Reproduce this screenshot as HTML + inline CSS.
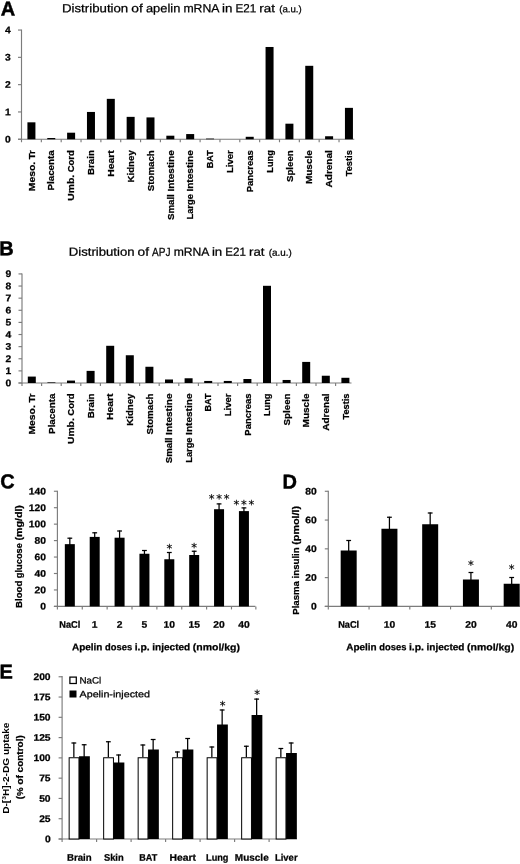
<!DOCTYPE html>
<html lang="en"><head><meta charset="utf-8"><title>Apelin figure</title>
<style>
html,body{margin:0;padding:0;background:#fff;}
body{width:520px;height:864px;overflow:hidden;}
svg{display:block;font-family:"Liberation Sans","Liberation Sans",sans-serif;fill:#000;}
svg line{shape-rendering:auto;}
</style></head><body>
<svg width="520" height="864" viewBox="0 0 520 864">
<rect x="0" y="0" width="520" height="864" fill="#fff"/>
<text transform="translate(0.80 15.50) rotate(0.03)" font-size="20.00" font-weight="bold" stroke="#000" stroke-width="0.45" x="0.00" y="0.00">A</text>
<text transform="translate(62.00 12.20) rotate(0.03)" font-size="11.77" stroke="#000" stroke-width="0.25"><tspan x="0.00" y="0.00" textLength="66.24" lengthAdjust="spacingAndGlyphs">Distribution</tspan> <tspan x="69.36" y="0.00" textLength="11.49" lengthAdjust="spacingAndGlyphs">of</tspan> <tspan x="83.97" y="0.00" textLength="34.32" lengthAdjust="spacingAndGlyphs">apelin</tspan> <tspan x="121.42" y="0.00" textLength="35.42" lengthAdjust="spacingAndGlyphs">mRNA</tspan> <tspan x="159.96" y="0.00" textLength="10.42" lengthAdjust="spacingAndGlyphs">in</tspan> <tspan x="173.50" y="0.00" textLength="20.73" lengthAdjust="spacingAndGlyphs">E21</tspan> <tspan x="197.36" y="0.00" textLength="15.64" lengthAdjust="spacingAndGlyphs">rat</tspan></text>
<text transform="translate(279.25 12.20) rotate(0.03)" font-size="9.47" stroke="#000" stroke-width="0.25"><tspan x="0.00" y="0.00" textLength="22.50" lengthAdjust="spacingAndGlyphs">(a.u.)</tspan></text>
<line x1="21.50" y1="29.55" x2="21.50" y2="139.75" stroke="#7c7c7c" stroke-width="1.15"/>
<line x1="18.00" y1="139.25" x2="354.30" y2="139.25" stroke="#7c7c7c" stroke-width="1.15"/>
<line x1="18.00" y1="139.25" x2="21.50" y2="139.25" stroke="#7c7c7c" stroke-width="1.15"/>
<text transform="translate(10.70 142.45) rotate(0.03)" font-size="9.56" font-weight="bold" stroke="#000" stroke-width="0.25"><tspan x="-5.73" y="0.00" textLength="5.73" lengthAdjust="spacingAndGlyphs">0</tspan></text>
<line x1="18.00" y1="111.95" x2="21.50" y2="111.95" stroke="#7c7c7c" stroke-width="1.15"/>
<text transform="translate(10.70 115.15) rotate(0.03)" font-size="9.56" font-weight="bold" stroke="#000" stroke-width="0.25"><tspan x="-5.73" y="0.00" textLength="5.73" lengthAdjust="spacingAndGlyphs">1</tspan></text>
<line x1="18.00" y1="84.65" x2="21.50" y2="84.65" stroke="#7c7c7c" stroke-width="1.15"/>
<text transform="translate(10.70 87.85) rotate(0.03)" font-size="9.56" font-weight="bold" stroke="#000" stroke-width="0.25"><tspan x="-5.73" y="0.00" textLength="5.73" lengthAdjust="spacingAndGlyphs">2</tspan></text>
<line x1="18.00" y1="57.35" x2="21.50" y2="57.35" stroke="#7c7c7c" stroke-width="1.15"/>
<text transform="translate(10.70 60.55) rotate(0.03)" font-size="9.56" font-weight="bold" stroke="#000" stroke-width="0.25"><tspan x="-5.73" y="0.00" textLength="5.73" lengthAdjust="spacingAndGlyphs">3</tspan></text>
<line x1="18.00" y1="30.05" x2="21.50" y2="30.05" stroke="#7c7c7c" stroke-width="1.15"/>
<text transform="translate(10.70 33.25) rotate(0.03)" font-size="9.56" font-weight="bold" stroke="#000" stroke-width="0.25"><tspan x="-5.73" y="0.00" textLength="5.73" lengthAdjust="spacingAndGlyphs">4</tspan></text>
<line x1="21.50" y1="139.25" x2="21.50" y2="142.25" stroke="#7c7c7c" stroke-width="1.15"/>
<rect x="27.42" y="122.32" width="8.00" height="16.93" fill="#000"/>
<text transform="translate(34.62 150.20) rotate(-90)" font-size="9.73" font-weight="bold" stroke="#000" stroke-width="0.25"><tspan x="-41.06" y="0.00" textLength="29.39" lengthAdjust="spacingAndGlyphs">Meso.</tspan> <tspan x="-9.10" y="0.00" textLength="9.10" lengthAdjust="spacingAndGlyphs">Tr</tspan></text>
<line x1="41.34" y1="139.25" x2="41.34" y2="142.25" stroke="#7c7c7c" stroke-width="1.15"/>
<rect x="47.27" y="138.02" width="8.00" height="1.23" fill="#000"/>
<text transform="translate(54.47 150.20) rotate(-90)" font-size="9.73" font-weight="bold" stroke="#000" stroke-width="0.25"><tspan x="-40.43" y="0.00" textLength="40.43" lengthAdjust="spacingAndGlyphs">Placenta</tspan></text>
<line x1="61.19" y1="139.25" x2="61.19" y2="142.25" stroke="#7c7c7c" stroke-width="1.15"/>
<rect x="67.11" y="132.70" width="8.00" height="6.55" fill="#000"/>
<text transform="translate(74.31 150.20) rotate(-90)" font-size="9.73" font-weight="bold" stroke="#000" stroke-width="0.25"><tspan x="-50.54" y="0.00" textLength="25.82" lengthAdjust="spacingAndGlyphs">Umb.</tspan> <tspan x="-22.14" y="0.00" textLength="22.14" lengthAdjust="spacingAndGlyphs">Cord</tspan></text>
<line x1="81.03" y1="139.25" x2="81.03" y2="142.25" stroke="#7c7c7c" stroke-width="1.15"/>
<rect x="86.96" y="111.95" width="8.00" height="27.30" fill="#000"/>
<text transform="translate(94.16 150.20) rotate(-90)" font-size="9.73" font-weight="bold" stroke="#000" stroke-width="0.25"><tspan x="-24.79" y="0.00" textLength="24.79" lengthAdjust="spacingAndGlyphs">Brain</tspan></text>
<line x1="100.88" y1="139.25" x2="100.88" y2="142.25" stroke="#7c7c7c" stroke-width="1.15"/>
<rect x="106.80" y="98.85" width="8.00" height="40.40" fill="#000"/>
<text transform="translate(114.00 150.20) rotate(-90)" font-size="9.73" font-weight="bold" stroke="#000" stroke-width="0.25"><tspan x="-26.60" y="0.00" textLength="26.60" lengthAdjust="spacingAndGlyphs">Heart</tspan></text>
<line x1="120.72" y1="139.25" x2="120.72" y2="142.25" stroke="#7c7c7c" stroke-width="1.15"/>
<rect x="126.65" y="116.86" width="8.00" height="22.39" fill="#000"/>
<text transform="translate(133.85 150.20) rotate(-90)" font-size="9.73" font-weight="bold" stroke="#000" stroke-width="0.25"><tspan x="-32.31" y="0.00" textLength="32.31" lengthAdjust="spacingAndGlyphs">Kidney</tspan></text>
<line x1="140.57" y1="139.25" x2="140.57" y2="142.25" stroke="#7c7c7c" stroke-width="1.15"/>
<rect x="146.49" y="117.41" width="8.00" height="21.84" fill="#000"/>
<text transform="translate(153.69 150.20) rotate(-90)" font-size="9.73" font-weight="bold" stroke="#000" stroke-width="0.25"><tspan x="-41.09" y="0.00" textLength="41.09" lengthAdjust="spacingAndGlyphs">Stomach</tspan></text>
<line x1="160.41" y1="139.25" x2="160.41" y2="142.25" stroke="#7c7c7c" stroke-width="1.15"/>
<rect x="166.34" y="135.70" width="8.00" height="3.55" fill="#000"/>
<text transform="translate(173.54 150.20) rotate(-90)" font-size="9.73" font-weight="bold" stroke="#000" stroke-width="0.25"><tspan x="-69.80" y="0.00" textLength="25.81" lengthAdjust="spacingAndGlyphs">Small</tspan> <tspan x="-41.42" y="0.00" textLength="41.42" lengthAdjust="spacingAndGlyphs">Intestine</tspan></text>
<line x1="180.26" y1="139.25" x2="180.26" y2="142.25" stroke="#7c7c7c" stroke-width="1.15"/>
<rect x="186.18" y="134.06" width="8.00" height="5.19" fill="#000"/>
<text transform="translate(193.38 150.20) rotate(-90)" font-size="9.73" font-weight="bold" stroke="#000" stroke-width="0.25"><tspan x="-69.29" y="0.00" textLength="25.31" lengthAdjust="spacingAndGlyphs">Large</tspan> <tspan x="-41.42" y="0.00" textLength="41.42" lengthAdjust="spacingAndGlyphs">Intestine</tspan></text>
<line x1="200.10" y1="139.25" x2="200.10" y2="142.25" stroke="#7c7c7c" stroke-width="1.15"/>
<rect x="206.03" y="138.57" width="8.00" height="0.68" fill="#000"/>
<text transform="translate(213.23 150.20) rotate(-90)" font-size="9.73" font-weight="bold" stroke="#000" stroke-width="0.25"><tspan x="-18.03" y="0.00" textLength="18.03" lengthAdjust="spacingAndGlyphs">BAT</tspan></text>
<line x1="219.95" y1="139.25" x2="219.95" y2="142.25" stroke="#7c7c7c" stroke-width="1.15"/>
<text transform="translate(233.07 150.20) rotate(-90)" font-size="9.73" font-weight="bold" stroke="#000" stroke-width="0.25"><tspan x="-22.76" y="0.00" textLength="22.76" lengthAdjust="spacingAndGlyphs">Liver</tspan></text>
<line x1="239.79" y1="139.25" x2="239.79" y2="142.25" stroke="#7c7c7c" stroke-width="1.15"/>
<rect x="245.72" y="136.79" width="8.00" height="2.46" fill="#000"/>
<text transform="translate(252.92 150.20) rotate(-90)" font-size="9.73" font-weight="bold" stroke="#000" stroke-width="0.25"><tspan x="-42.14" y="0.00" textLength="42.14" lengthAdjust="spacingAndGlyphs">Pancreas</tspan></text>
<line x1="259.64" y1="139.25" x2="259.64" y2="142.25" stroke="#7c7c7c" stroke-width="1.15"/>
<rect x="265.56" y="46.98" width="8.00" height="92.27" fill="#000"/>
<text transform="translate(272.76 150.20) rotate(-90)" font-size="9.73" font-weight="bold" stroke="#000" stroke-width="0.25"><tspan x="-22.52" y="0.00" textLength="22.52" lengthAdjust="spacingAndGlyphs">Lung</tspan></text>
<line x1="279.49" y1="139.25" x2="279.49" y2="142.25" stroke="#7c7c7c" stroke-width="1.15"/>
<rect x="285.41" y="123.69" width="8.00" height="15.56" fill="#000"/>
<text transform="translate(292.61 150.20) rotate(-90)" font-size="9.73" font-weight="bold" stroke="#000" stroke-width="0.25"><tspan x="-31.90" y="0.00" textLength="31.90" lengthAdjust="spacingAndGlyphs">Spleen</tspan></text>
<line x1="299.33" y1="139.25" x2="299.33" y2="142.25" stroke="#7c7c7c" stroke-width="1.15"/>
<rect x="305.25" y="65.81" width="8.00" height="73.44" fill="#000"/>
<text transform="translate(312.45 150.20) rotate(-90)" font-size="9.73" font-weight="bold" stroke="#000" stroke-width="0.25"><tspan x="-33.93" y="0.00" textLength="33.93" lengthAdjust="spacingAndGlyphs">Muscle</tspan></text>
<line x1="319.17" y1="139.25" x2="319.17" y2="142.25" stroke="#7c7c7c" stroke-width="1.15"/>
<rect x="325.10" y="136.25" width="8.00" height="3.00" fill="#000"/>
<text transform="translate(332.30 150.20) rotate(-90)" font-size="9.73" font-weight="bold" stroke="#000" stroke-width="0.25"><tspan x="-37.21" y="0.00" textLength="37.21" lengthAdjust="spacingAndGlyphs">Adrenal</tspan></text>
<line x1="339.02" y1="139.25" x2="339.02" y2="142.25" stroke="#7c7c7c" stroke-width="1.15"/>
<rect x="344.94" y="107.86" width="8.00" height="31.39" fill="#000"/>
<text transform="translate(352.14 150.20) rotate(-90)" font-size="9.73" font-weight="bold" stroke="#000" stroke-width="0.25"><tspan x="-26.08" y="0.00" textLength="26.08" lengthAdjust="spacingAndGlyphs">Testis</tspan></text>
<text transform="translate(-0.80 255.30) rotate(0.03)" font-size="20.00" font-weight="bold" stroke="#000" stroke-width="0.45" x="0.00" y="0.00">B</text>
<text transform="translate(68.80 255.70) rotate(0.03)" font-size="11.77" stroke="#000" stroke-width="0.25"><tspan x="0.00" y="0.00" textLength="65.72" lengthAdjust="spacingAndGlyphs">Distribution</tspan> <tspan x="68.82" y="0.00" textLength="11.40" lengthAdjust="spacingAndGlyphs">of</tspan> <tspan x="83.31" y="0.00" textLength="18.43" lengthAdjust="spacingAndGlyphs">APJ</tspan> <tspan x="104.84" y="0.00" textLength="35.14" lengthAdjust="spacingAndGlyphs">mRNA</tspan> <tspan x="143.08" y="0.00" textLength="10.34" lengthAdjust="spacingAndGlyphs">in</tspan> <tspan x="156.52" y="0.00" textLength="20.57" lengthAdjust="spacingAndGlyphs">E21</tspan> <tspan x="180.18" y="0.00" textLength="15.52" lengthAdjust="spacingAndGlyphs">rat</tspan></text>
<text transform="translate(268.75 255.70) rotate(0.03)" font-size="9.47" stroke="#000" stroke-width="0.25"><tspan x="0.00" y="0.00" textLength="23.00" lengthAdjust="spacingAndGlyphs">(a.u.)</tspan></text>
<line x1="22.00" y1="273.42" x2="22.00" y2="383.50" stroke="#7c7c7c" stroke-width="1.15"/>
<line x1="18.50" y1="383.00" x2="351.50" y2="383.00" stroke="#7c7c7c" stroke-width="1.15"/>
<line x1="18.50" y1="383.00" x2="22.00" y2="383.00" stroke="#7c7c7c" stroke-width="1.15"/>
<text transform="translate(11.20 386.20) rotate(0.03)" font-size="9.56" font-weight="bold" stroke="#000" stroke-width="0.25"><tspan x="-5.73" y="0.00" textLength="5.73" lengthAdjust="spacingAndGlyphs">0</tspan></text>
<line x1="18.50" y1="370.88" x2="22.00" y2="370.88" stroke="#7c7c7c" stroke-width="1.15"/>
<text transform="translate(11.20 374.08) rotate(0.03)" font-size="9.56" font-weight="bold" stroke="#000" stroke-width="0.25"><tspan x="-5.73" y="0.00" textLength="5.73" lengthAdjust="spacingAndGlyphs">1</tspan></text>
<line x1="18.50" y1="358.76" x2="22.00" y2="358.76" stroke="#7c7c7c" stroke-width="1.15"/>
<text transform="translate(11.20 361.96) rotate(0.03)" font-size="9.56" font-weight="bold" stroke="#000" stroke-width="0.25"><tspan x="-5.73" y="0.00" textLength="5.73" lengthAdjust="spacingAndGlyphs">2</tspan></text>
<line x1="18.50" y1="346.64" x2="22.00" y2="346.64" stroke="#7c7c7c" stroke-width="1.15"/>
<text transform="translate(11.20 349.84) rotate(0.03)" font-size="9.56" font-weight="bold" stroke="#000" stroke-width="0.25"><tspan x="-5.73" y="0.00" textLength="5.73" lengthAdjust="spacingAndGlyphs">3</tspan></text>
<line x1="18.50" y1="334.52" x2="22.00" y2="334.52" stroke="#7c7c7c" stroke-width="1.15"/>
<text transform="translate(11.20 337.72) rotate(0.03)" font-size="9.56" font-weight="bold" stroke="#000" stroke-width="0.25"><tspan x="-5.73" y="0.00" textLength="5.73" lengthAdjust="spacingAndGlyphs">4</tspan></text>
<line x1="18.50" y1="322.40" x2="22.00" y2="322.40" stroke="#7c7c7c" stroke-width="1.15"/>
<text transform="translate(11.20 325.60) rotate(0.03)" font-size="9.56" font-weight="bold" stroke="#000" stroke-width="0.25"><tspan x="-5.73" y="0.00" textLength="5.73" lengthAdjust="spacingAndGlyphs">5</tspan></text>
<line x1="18.50" y1="310.28" x2="22.00" y2="310.28" stroke="#7c7c7c" stroke-width="1.15"/>
<text transform="translate(11.20 313.48) rotate(0.03)" font-size="9.56" font-weight="bold" stroke="#000" stroke-width="0.25"><tspan x="-5.73" y="0.00" textLength="5.73" lengthAdjust="spacingAndGlyphs">6</tspan></text>
<line x1="18.50" y1="298.16" x2="22.00" y2="298.16" stroke="#7c7c7c" stroke-width="1.15"/>
<text transform="translate(11.20 301.36) rotate(0.03)" font-size="9.56" font-weight="bold" stroke="#000" stroke-width="0.25"><tspan x="-5.73" y="0.00" textLength="5.73" lengthAdjust="spacingAndGlyphs">7</tspan></text>
<line x1="18.50" y1="286.04" x2="22.00" y2="286.04" stroke="#7c7c7c" stroke-width="1.15"/>
<text transform="translate(11.20 289.24) rotate(0.03)" font-size="9.56" font-weight="bold" stroke="#000" stroke-width="0.25"><tspan x="-5.73" y="0.00" textLength="5.73" lengthAdjust="spacingAndGlyphs">8</tspan></text>
<line x1="18.50" y1="273.92" x2="22.00" y2="273.92" stroke="#7c7c7c" stroke-width="1.15"/>
<text transform="translate(11.20 277.12) rotate(0.03)" font-size="9.56" font-weight="bold" stroke="#000" stroke-width="0.25"><tspan x="-5.73" y="0.00" textLength="5.73" lengthAdjust="spacingAndGlyphs">9</tspan></text>
<line x1="22.00" y1="383.00" x2="22.00" y2="386.00" stroke="#7c7c7c" stroke-width="1.15"/>
<rect x="27.80" y="376.58" width="8.00" height="6.42" fill="#000"/>
<text transform="translate(35.00 393.50) rotate(-90)" font-size="9.73" font-weight="bold" stroke="#000" stroke-width="0.25"><tspan x="-41.06" y="0.00" textLength="29.39" lengthAdjust="spacingAndGlyphs">Meso.</tspan> <tspan x="-9.10" y="0.00" textLength="9.10" lengthAdjust="spacingAndGlyphs">Tr</tspan></text>
<line x1="41.60" y1="383.00" x2="41.60" y2="386.00" stroke="#7c7c7c" stroke-width="1.15"/>
<rect x="47.40" y="382.39" width="8.00" height="0.61" fill="#000"/>
<text transform="translate(54.60 393.50) rotate(-90)" font-size="9.73" font-weight="bold" stroke="#000" stroke-width="0.25"><tspan x="-40.43" y="0.00" textLength="40.43" lengthAdjust="spacingAndGlyphs">Placenta</tspan></text>
<line x1="61.20" y1="383.00" x2="61.20" y2="386.00" stroke="#7c7c7c" stroke-width="1.15"/>
<rect x="67.00" y="380.58" width="8.00" height="2.42" fill="#000"/>
<text transform="translate(74.20 393.50) rotate(-90)" font-size="9.73" font-weight="bold" stroke="#000" stroke-width="0.25"><tspan x="-50.54" y="0.00" textLength="25.82" lengthAdjust="spacingAndGlyphs">Umb.</tspan> <tspan x="-22.14" y="0.00" textLength="22.14" lengthAdjust="spacingAndGlyphs">Cord</tspan></text>
<line x1="80.80" y1="383.00" x2="80.80" y2="386.00" stroke="#7c7c7c" stroke-width="1.15"/>
<rect x="86.60" y="370.88" width="8.00" height="12.12" fill="#000"/>
<text transform="translate(93.80 393.50) rotate(-90)" font-size="9.73" font-weight="bold" stroke="#000" stroke-width="0.25"><tspan x="-24.79" y="0.00" textLength="24.79" lengthAdjust="spacingAndGlyphs">Brain</tspan></text>
<line x1="100.40" y1="383.00" x2="100.40" y2="386.00" stroke="#7c7c7c" stroke-width="1.15"/>
<rect x="106.20" y="345.79" width="8.00" height="37.21" fill="#000"/>
<text transform="translate(113.40 393.50) rotate(-90)" font-size="9.73" font-weight="bold" stroke="#000" stroke-width="0.25"><tspan x="-26.60" y="0.00" textLength="26.60" lengthAdjust="spacingAndGlyphs">Heart</tspan></text>
<line x1="120.00" y1="383.00" x2="120.00" y2="386.00" stroke="#7c7c7c" stroke-width="1.15"/>
<rect x="125.80" y="355.25" width="8.00" height="27.75" fill="#000"/>
<text transform="translate(133.00 393.50) rotate(-90)" font-size="9.73" font-weight="bold" stroke="#000" stroke-width="0.25"><tspan x="-32.31" y="0.00" textLength="32.31" lengthAdjust="spacingAndGlyphs">Kidney</tspan></text>
<line x1="139.60" y1="383.00" x2="139.60" y2="386.00" stroke="#7c7c7c" stroke-width="1.15"/>
<rect x="145.40" y="366.76" width="8.00" height="16.24" fill="#000"/>
<text transform="translate(152.60 393.50) rotate(-90)" font-size="9.73" font-weight="bold" stroke="#000" stroke-width="0.25"><tspan x="-41.09" y="0.00" textLength="41.09" lengthAdjust="spacingAndGlyphs">Stomach</tspan></text>
<line x1="159.20" y1="383.00" x2="159.20" y2="386.00" stroke="#7c7c7c" stroke-width="1.15"/>
<rect x="165.00" y="379.49" width="8.00" height="3.51" fill="#000"/>
<text transform="translate(172.20 393.50) rotate(-90)" font-size="9.73" font-weight="bold" stroke="#000" stroke-width="0.25"><tspan x="-69.80" y="0.00" textLength="25.81" lengthAdjust="spacingAndGlyphs">Small</tspan> <tspan x="-41.42" y="0.00" textLength="41.42" lengthAdjust="spacingAndGlyphs">Intestine</tspan></text>
<line x1="178.80" y1="383.00" x2="178.80" y2="386.00" stroke="#7c7c7c" stroke-width="1.15"/>
<rect x="184.60" y="378.27" width="8.00" height="4.73" fill="#000"/>
<text transform="translate(191.80 393.50) rotate(-90)" font-size="9.73" font-weight="bold" stroke="#000" stroke-width="0.25"><tspan x="-69.29" y="0.00" textLength="25.31" lengthAdjust="spacingAndGlyphs">Large</tspan> <tspan x="-41.42" y="0.00" textLength="41.42" lengthAdjust="spacingAndGlyphs">Intestine</tspan></text>
<line x1="198.40" y1="383.00" x2="198.40" y2="386.00" stroke="#7c7c7c" stroke-width="1.15"/>
<rect x="204.20" y="380.94" width="8.00" height="2.06" fill="#000"/>
<text transform="translate(211.40 393.50) rotate(-90)" font-size="9.73" font-weight="bold" stroke="#000" stroke-width="0.25"><tspan x="-18.03" y="0.00" textLength="18.03" lengthAdjust="spacingAndGlyphs">BAT</tspan></text>
<line x1="218.00" y1="383.00" x2="218.00" y2="386.00" stroke="#7c7c7c" stroke-width="1.15"/>
<rect x="223.80" y="380.94" width="8.00" height="2.06" fill="#000"/>
<text transform="translate(231.00 393.50) rotate(-90)" font-size="9.73" font-weight="bold" stroke="#000" stroke-width="0.25"><tspan x="-22.76" y="0.00" textLength="22.76" lengthAdjust="spacingAndGlyphs">Liver</tspan></text>
<line x1="237.60" y1="383.00" x2="237.60" y2="386.00" stroke="#7c7c7c" stroke-width="1.15"/>
<rect x="243.40" y="379.00" width="8.00" height="4.00" fill="#000"/>
<text transform="translate(250.60 393.50) rotate(-90)" font-size="9.73" font-weight="bold" stroke="#000" stroke-width="0.25"><tspan x="-42.14" y="0.00" textLength="42.14" lengthAdjust="spacingAndGlyphs">Pancreas</tspan></text>
<line x1="257.20" y1="383.00" x2="257.20" y2="386.00" stroke="#7c7c7c" stroke-width="1.15"/>
<rect x="263.00" y="285.80" width="8.00" height="97.20" fill="#000"/>
<text transform="translate(270.20 393.50) rotate(-90)" font-size="9.73" font-weight="bold" stroke="#000" stroke-width="0.25"><tspan x="-22.52" y="0.00" textLength="22.52" lengthAdjust="spacingAndGlyphs">Lung</tspan></text>
<line x1="276.80" y1="383.00" x2="276.80" y2="386.00" stroke="#7c7c7c" stroke-width="1.15"/>
<rect x="282.60" y="379.97" width="8.00" height="3.03" fill="#000"/>
<text transform="translate(289.80 393.50) rotate(-90)" font-size="9.73" font-weight="bold" stroke="#000" stroke-width="0.25"><tspan x="-31.90" y="0.00" textLength="31.90" lengthAdjust="spacingAndGlyphs">Spleen</tspan></text>
<line x1="296.40" y1="383.00" x2="296.40" y2="386.00" stroke="#7c7c7c" stroke-width="1.15"/>
<rect x="302.20" y="361.91" width="8.00" height="21.09" fill="#000"/>
<text transform="translate(309.40 393.50) rotate(-90)" font-size="9.73" font-weight="bold" stroke="#000" stroke-width="0.25"><tspan x="-33.93" y="0.00" textLength="33.93" lengthAdjust="spacingAndGlyphs">Muscle</tspan></text>
<line x1="316.00" y1="383.00" x2="316.00" y2="386.00" stroke="#7c7c7c" stroke-width="1.15"/>
<rect x="321.80" y="375.73" width="8.00" height="7.27" fill="#000"/>
<text transform="translate(329.00 393.50) rotate(-90)" font-size="9.73" font-weight="bold" stroke="#000" stroke-width="0.25"><tspan x="-37.21" y="0.00" textLength="37.21" lengthAdjust="spacingAndGlyphs">Adrenal</tspan></text>
<line x1="335.60" y1="383.00" x2="335.60" y2="386.00" stroke="#7c7c7c" stroke-width="1.15"/>
<rect x="341.40" y="377.79" width="8.00" height="5.21" fill="#000"/>
<text transform="translate(348.60 393.50) rotate(-90)" font-size="9.73" font-weight="bold" stroke="#000" stroke-width="0.25"><tspan x="-26.08" y="0.00" textLength="26.08" lengthAdjust="spacingAndGlyphs">Testis</tspan></text>
<text transform="translate(0.20 488.30) rotate(0.03)" font-size="20.00" font-weight="bold" stroke="#000" stroke-width="0.45" x="0.00" y="0.00">C</text>
<line x1="57.40" y1="490.75" x2="57.40" y2="606.90" stroke="#7c7c7c" stroke-width="1.15"/>
<line x1="53.90" y1="606.40" x2="255.40" y2="606.40" stroke="#7c7c7c" stroke-width="1.15"/>
<line x1="53.90" y1="606.40" x2="57.40" y2="606.40" stroke="#7c7c7c" stroke-width="1.15"/>
<text transform="translate(45.90 609.60) rotate(0.03)" font-size="9.56" font-weight="bold" stroke="#000" stroke-width="0.25"><tspan x="-5.73" y="0.00" textLength="5.73" lengthAdjust="spacingAndGlyphs">0</tspan></text>
<line x1="53.90" y1="589.95" x2="57.40" y2="589.95" stroke="#7c7c7c" stroke-width="1.15"/>
<text transform="translate(45.90 593.15) rotate(0.03)" font-size="9.56" font-weight="bold" stroke="#000" stroke-width="0.25"><tspan x="-11.46" y="0.00" textLength="11.46" lengthAdjust="spacingAndGlyphs">20</tspan></text>
<line x1="53.90" y1="573.50" x2="57.40" y2="573.50" stroke="#7c7c7c" stroke-width="1.15"/>
<text transform="translate(45.90 576.70) rotate(0.03)" font-size="9.56" font-weight="bold" stroke="#000" stroke-width="0.25"><tspan x="-11.46" y="0.00" textLength="11.46" lengthAdjust="spacingAndGlyphs">40</tspan></text>
<line x1="53.90" y1="557.05" x2="57.40" y2="557.05" stroke="#7c7c7c" stroke-width="1.15"/>
<text transform="translate(45.90 560.25) rotate(0.03)" font-size="9.56" font-weight="bold" stroke="#000" stroke-width="0.25"><tspan x="-11.46" y="0.00" textLength="11.46" lengthAdjust="spacingAndGlyphs">60</tspan></text>
<line x1="53.90" y1="540.60" x2="57.40" y2="540.60" stroke="#7c7c7c" stroke-width="1.15"/>
<text transform="translate(45.90 543.80) rotate(0.03)" font-size="9.56" font-weight="bold" stroke="#000" stroke-width="0.25"><tspan x="-11.46" y="0.00" textLength="11.46" lengthAdjust="spacingAndGlyphs">80</tspan></text>
<line x1="53.90" y1="524.15" x2="57.40" y2="524.15" stroke="#7c7c7c" stroke-width="1.15"/>
<text transform="translate(45.90 527.35) rotate(0.03)" font-size="9.56" font-weight="bold" stroke="#000" stroke-width="0.25"><tspan x="-17.19" y="0.00" textLength="17.19" lengthAdjust="spacingAndGlyphs">100</tspan></text>
<line x1="53.90" y1="507.70" x2="57.40" y2="507.70" stroke="#7c7c7c" stroke-width="1.15"/>
<text transform="translate(45.90 510.90) rotate(0.03)" font-size="9.56" font-weight="bold" stroke="#000" stroke-width="0.25"><tspan x="-17.19" y="0.00" textLength="17.19" lengthAdjust="spacingAndGlyphs">120</tspan></text>
<line x1="53.90" y1="491.25" x2="57.40" y2="491.25" stroke="#7c7c7c" stroke-width="1.15"/>
<text transform="translate(45.90 494.45) rotate(0.03)" font-size="9.56" font-weight="bold" stroke="#000" stroke-width="0.25"><tspan x="-17.19" y="0.00" textLength="17.19" lengthAdjust="spacingAndGlyphs">140</tspan></text>
<line x1="57.40" y1="606.40" x2="57.40" y2="609.40" stroke="#7c7c7c" stroke-width="1.15"/>
<line x1="69.83" y1="537.70" x2="69.83" y2="545.15" stroke="#000" stroke-width="1.25"/>
<line x1="67.43" y1="538.20" x2="72.23" y2="538.20" stroke="#000" stroke-width="1.25"/>
<rect x="64.83" y="544.15" width="10.00" height="62.25" fill="#000"/>
<text transform="translate(69.83 627.80) rotate(0.03)" font-size="9.65" font-weight="bold" stroke="#000" stroke-width="0.25"><tspan x="-10.49" y="0.00" textLength="20.99" lengthAdjust="spacingAndGlyphs">NaCl</tspan></text>
<line x1="82.27" y1="606.40" x2="82.27" y2="609.40" stroke="#7c7c7c" stroke-width="1.15"/>
<line x1="94.70" y1="532.30" x2="94.70" y2="537.90" stroke="#000" stroke-width="1.25"/>
<line x1="92.30" y1="532.80" x2="97.11" y2="532.80" stroke="#000" stroke-width="1.25"/>
<rect x="89.70" y="536.90" width="10.00" height="69.50" fill="#000"/>
<text transform="translate(94.70 627.80) rotate(0.03)" font-size="9.65" font-weight="bold" stroke="#000" stroke-width="0.25"><tspan x="-2.86" y="0.00" textLength="5.73" lengthAdjust="spacingAndGlyphs">1</tspan></text>
<line x1="107.14" y1="606.40" x2="107.14" y2="609.40" stroke="#7c7c7c" stroke-width="1.15"/>
<line x1="119.58" y1="530.50" x2="119.58" y2="538.70" stroke="#000" stroke-width="1.25"/>
<line x1="117.17" y1="531.00" x2="121.98" y2="531.00" stroke="#000" stroke-width="1.25"/>
<rect x="114.58" y="537.70" width="10.00" height="68.70" fill="#000"/>
<text transform="translate(119.58 627.80) rotate(0.03)" font-size="9.65" font-weight="bold" stroke="#000" stroke-width="0.25"><tspan x="-2.86" y="0.00" textLength="5.73" lengthAdjust="spacingAndGlyphs">2</tspan></text>
<line x1="132.01" y1="606.40" x2="132.01" y2="609.40" stroke="#7c7c7c" stroke-width="1.15"/>
<line x1="144.44" y1="550.00" x2="144.44" y2="554.75" stroke="#000" stroke-width="1.25"/>
<line x1="142.04" y1="550.50" x2="146.84" y2="550.50" stroke="#000" stroke-width="1.25"/>
<rect x="139.44" y="553.75" width="10.00" height="52.65" fill="#000"/>
<text transform="translate(144.44 627.80) rotate(0.03)" font-size="9.65" font-weight="bold" stroke="#000" stroke-width="0.25"><tspan x="-2.86" y="0.00" textLength="5.73" lengthAdjust="spacingAndGlyphs">5</tspan></text>
<line x1="156.88" y1="606.40" x2="156.88" y2="609.40" stroke="#7c7c7c" stroke-width="1.15"/>
<line x1="169.31" y1="552.00" x2="169.31" y2="560.25" stroke="#000" stroke-width="1.25"/>
<line x1="166.91" y1="552.50" x2="171.72" y2="552.50" stroke="#000" stroke-width="1.25"/>
<rect x="164.31" y="559.25" width="10.00" height="47.15" fill="#000"/>
<text transform="translate(169.31 552.60) rotate(0.03)" font-size="11.50" font-family="DejaVu Sans, Liberation Sans, sans-serif" stroke="#000" stroke-width="0.2" x="0.00" y="0.00" text-anchor="middle">*</text>
<text transform="translate(169.31 627.80) rotate(0.03)" font-size="9.65" font-weight="bold" stroke="#000" stroke-width="0.25"><tspan x="-5.73" y="0.00" textLength="11.46" lengthAdjust="spacingAndGlyphs">10</tspan></text>
<line x1="181.75" y1="606.40" x2="181.75" y2="609.40" stroke="#7c7c7c" stroke-width="1.15"/>
<line x1="194.19" y1="550.75" x2="194.19" y2="556.00" stroke="#000" stroke-width="1.25"/>
<line x1="191.78" y1="551.25" x2="196.59" y2="551.25" stroke="#000" stroke-width="1.25"/>
<rect x="189.19" y="555.00" width="10.00" height="51.40" fill="#000"/>
<text transform="translate(194.19 551.60) rotate(0.03)" font-size="11.50" font-family="DejaVu Sans, Liberation Sans, sans-serif" stroke="#000" stroke-width="0.2" x="0.00" y="0.00" text-anchor="middle">*</text>
<text transform="translate(194.19 627.80) rotate(0.03)" font-size="9.65" font-weight="bold" stroke="#000" stroke-width="0.25"><tspan x="-5.73" y="0.00" textLength="11.46" lengthAdjust="spacingAndGlyphs">15</tspan></text>
<line x1="206.62" y1="606.40" x2="206.62" y2="609.40" stroke="#7c7c7c" stroke-width="1.15"/>
<line x1="219.06" y1="503.40" x2="219.06" y2="510.20" stroke="#000" stroke-width="1.25"/>
<line x1="216.66" y1="503.90" x2="221.46" y2="503.90" stroke="#000" stroke-width="1.25"/>
<rect x="214.06" y="509.20" width="10.00" height="97.20" fill="#000"/>
<text transform="translate(219.96 502.70) rotate(0.03)" font-size="11.50" font-family="DejaVu Sans, Liberation Sans, sans-serif" stroke="#000" stroke-width="0.2" letter-spacing="1.8" x="0.00" y="0.00" text-anchor="middle">***</text>
<text transform="translate(219.06 627.80) rotate(0.03)" font-size="9.65" font-weight="bold" stroke="#000" stroke-width="0.25"><tspan x="-5.73" y="0.00" textLength="11.46" lengthAdjust="spacingAndGlyphs">20</tspan></text>
<line x1="231.49" y1="606.40" x2="231.49" y2="609.40" stroke="#7c7c7c" stroke-width="1.15"/>
<line x1="243.93" y1="507.40" x2="243.93" y2="512.10" stroke="#000" stroke-width="1.25"/>
<line x1="241.53" y1="507.90" x2="246.33" y2="507.90" stroke="#000" stroke-width="1.25"/>
<rect x="238.93" y="511.10" width="10.00" height="95.30" fill="#000"/>
<text transform="translate(244.83 508.60) rotate(0.03)" font-size="11.50" font-family="DejaVu Sans, Liberation Sans, sans-serif" stroke="#000" stroke-width="0.2" letter-spacing="1.8" x="0.00" y="0.00" text-anchor="middle">***</text>
<text transform="translate(243.93 627.80) rotate(0.03)" font-size="9.65" font-weight="bold" stroke="#000" stroke-width="0.25"><tspan x="-5.73" y="0.00" textLength="11.46" lengthAdjust="spacingAndGlyphs">40</tspan></text>
<line x1="255.86" y1="606.40" x2="255.86" y2="609.40" stroke="#7c7c7c" stroke-width="1.15"/>
<text transform="translate(72.00 650.30) rotate(0.03)" font-size="9.65" font-weight="bold" stroke="#000" stroke-width="0.25"><tspan x="0.00" y="0.00" textLength="30.47" lengthAdjust="spacingAndGlyphs">Apelin</tspan> <tspan x="33.04" y="0.00" textLength="27.07" lengthAdjust="spacingAndGlyphs">doses</tspan> <tspan x="62.68" y="0.00" textLength="15.00" lengthAdjust="spacingAndGlyphs">i.p.</tspan> <tspan x="80.26" y="0.00" textLength="37.99" lengthAdjust="spacingAndGlyphs">injected</tspan> <tspan x="120.83" y="0.00" textLength="47.17" lengthAdjust="spacingAndGlyphs">(nmol/kg)</tspan></text>
<text transform="translate(22.35 607.90) rotate(-90)" font-size="9.56" font-weight="bold" stroke="#000" stroke-width="0.25"><tspan x="0.00" y="0.00" textLength="27.22" lengthAdjust="spacingAndGlyphs">Blood</tspan> <tspan x="29.76" y="0.00" textLength="35.01" lengthAdjust="spacingAndGlyphs">glucose</tspan> <tspan x="67.32" y="0.00" textLength="35.48" lengthAdjust="spacingAndGlyphs">(mg/dl)</tspan></text>
<text transform="translate(282.40 488.50) rotate(0.03)" font-size="20.00" font-weight="bold" stroke="#000" stroke-width="0.45" x="0.00" y="0.00">D</text>
<line x1="328.30" y1="490.75" x2="328.30" y2="606.90" stroke="#7c7c7c" stroke-width="1.15"/>
<line x1="324.80" y1="606.40" x2="520.00" y2="606.40" stroke="#7c7c7c" stroke-width="1.15"/>
<line x1="324.80" y1="606.40" x2="328.30" y2="606.40" stroke="#7c7c7c" stroke-width="1.15"/>
<text transform="translate(316.80 609.60) rotate(0.03)" font-size="9.56" font-weight="bold" stroke="#000" stroke-width="0.25"><tspan x="-5.73" y="0.00" textLength="5.73" lengthAdjust="spacingAndGlyphs">0</tspan></text>
<line x1="324.80" y1="577.62" x2="328.30" y2="577.62" stroke="#7c7c7c" stroke-width="1.15"/>
<text transform="translate(316.80 580.82) rotate(0.03)" font-size="9.56" font-weight="bold" stroke="#000" stroke-width="0.25"><tspan x="-11.46" y="0.00" textLength="11.46" lengthAdjust="spacingAndGlyphs">20</tspan></text>
<line x1="324.80" y1="548.84" x2="328.30" y2="548.84" stroke="#7c7c7c" stroke-width="1.15"/>
<text transform="translate(316.80 552.04) rotate(0.03)" font-size="9.56" font-weight="bold" stroke="#000" stroke-width="0.25"><tspan x="-11.46" y="0.00" textLength="11.46" lengthAdjust="spacingAndGlyphs">40</tspan></text>
<line x1="324.80" y1="520.06" x2="328.30" y2="520.06" stroke="#7c7c7c" stroke-width="1.15"/>
<text transform="translate(316.80 523.26) rotate(0.03)" font-size="9.56" font-weight="bold" stroke="#000" stroke-width="0.25"><tspan x="-11.46" y="0.00" textLength="11.46" lengthAdjust="spacingAndGlyphs">60</tspan></text>
<line x1="324.80" y1="491.28" x2="328.30" y2="491.28" stroke="#7c7c7c" stroke-width="1.15"/>
<text transform="translate(316.80 494.48) rotate(0.03)" font-size="9.56" font-weight="bold" stroke="#000" stroke-width="0.25"><tspan x="-11.46" y="0.00" textLength="11.46" lengthAdjust="spacingAndGlyphs">80</tspan></text>
<line x1="328.30" y1="606.40" x2="328.30" y2="609.40" stroke="#7c7c7c" stroke-width="1.15"/>
<line x1="348.68" y1="540.00" x2="348.68" y2="551.50" stroke="#000" stroke-width="1.25"/>
<line x1="346.28" y1="540.50" x2="351.07" y2="540.50" stroke="#000" stroke-width="1.25"/>
<rect x="340.68" y="550.50" width="16.00" height="55.90" fill="#000"/>
<text transform="translate(348.68 627.80) rotate(0.03)" font-size="9.65" font-weight="bold" stroke="#000" stroke-width="0.25"><tspan x="-10.49" y="0.00" textLength="20.99" lengthAdjust="spacingAndGlyphs">NaCl</tspan></text>
<line x1="369.05" y1="606.40" x2="369.05" y2="609.40" stroke="#7c7c7c" stroke-width="1.15"/>
<line x1="389.43" y1="516.75" x2="389.43" y2="529.75" stroke="#000" stroke-width="1.25"/>
<line x1="387.03" y1="517.25" x2="391.82" y2="517.25" stroke="#000" stroke-width="1.25"/>
<rect x="381.43" y="528.75" width="16.00" height="77.65" fill="#000"/>
<text transform="translate(389.43 627.80) rotate(0.03)" font-size="9.65" font-weight="bold" stroke="#000" stroke-width="0.25"><tspan x="-5.73" y="0.00" textLength="11.46" lengthAdjust="spacingAndGlyphs">10</tspan></text>
<line x1="409.80" y1="606.40" x2="409.80" y2="609.40" stroke="#7c7c7c" stroke-width="1.15"/>
<line x1="430.18" y1="512.50" x2="430.18" y2="525.25" stroke="#000" stroke-width="1.25"/>
<line x1="427.78" y1="513.00" x2="432.57" y2="513.00" stroke="#000" stroke-width="1.25"/>
<rect x="422.18" y="524.25" width="16.00" height="82.15" fill="#000"/>
<text transform="translate(430.18 627.80) rotate(0.03)" font-size="9.65" font-weight="bold" stroke="#000" stroke-width="0.25"><tspan x="-5.73" y="0.00" textLength="11.46" lengthAdjust="spacingAndGlyphs">15</tspan></text>
<line x1="450.55" y1="606.40" x2="450.55" y2="609.40" stroke="#7c7c7c" stroke-width="1.15"/>
<line x1="470.93" y1="572.00" x2="470.93" y2="580.50" stroke="#000" stroke-width="1.25"/>
<line x1="468.53" y1="572.50" x2="473.32" y2="572.50" stroke="#000" stroke-width="1.25"/>
<rect x="462.93" y="579.50" width="16.00" height="26.90" fill="#000"/>
<text transform="translate(470.93 569.10) rotate(0.03)" font-size="11.50" font-family="DejaVu Sans, Liberation Sans, sans-serif" stroke="#000" stroke-width="0.2" x="0.00" y="0.00" text-anchor="middle">*</text>
<text transform="translate(470.93 627.80) rotate(0.03)" font-size="9.65" font-weight="bold" stroke="#000" stroke-width="0.25"><tspan x="-5.73" y="0.00" textLength="11.46" lengthAdjust="spacingAndGlyphs">20</tspan></text>
<line x1="491.30" y1="606.40" x2="491.30" y2="609.40" stroke="#7c7c7c" stroke-width="1.15"/>
<line x1="511.68" y1="577.00" x2="511.68" y2="584.75" stroke="#000" stroke-width="1.25"/>
<line x1="509.28" y1="577.50" x2="514.08" y2="577.50" stroke="#000" stroke-width="1.25"/>
<rect x="503.68" y="583.75" width="16.00" height="22.65" fill="#000"/>
<text transform="translate(511.68 573.10) rotate(0.03)" font-size="11.50" font-family="DejaVu Sans, Liberation Sans, sans-serif" stroke="#000" stroke-width="0.2" x="0.00" y="0.00" text-anchor="middle">*</text>
<text transform="translate(511.68 627.80) rotate(0.03)" font-size="9.65" font-weight="bold" stroke="#000" stroke-width="0.25"><tspan x="-5.73" y="0.00" textLength="11.46" lengthAdjust="spacingAndGlyphs">40</tspan></text>
<text transform="translate(346.25 650.30) rotate(0.03)" font-size="9.65" font-weight="bold" stroke="#000" stroke-width="0.25"><tspan x="0.00" y="0.00" textLength="30.47" lengthAdjust="spacingAndGlyphs">Apelin</tspan> <tspan x="33.04" y="0.00" textLength="27.07" lengthAdjust="spacingAndGlyphs">doses</tspan> <tspan x="62.68" y="0.00" textLength="15.00" lengthAdjust="spacingAndGlyphs">i.p.</tspan> <tspan x="80.26" y="0.00" textLength="37.99" lengthAdjust="spacingAndGlyphs">injected</tspan> <tspan x="120.83" y="0.00" textLength="47.17" lengthAdjust="spacingAndGlyphs">(nmol/kg)</tspan></text>
<text transform="translate(298.60 614.80) rotate(-90)" font-size="9.56" font-weight="bold" stroke="#000" stroke-width="0.25"><tspan x="0.00" y="0.00" textLength="33.78" lengthAdjust="spacingAndGlyphs">Plasma</tspan> <tspan x="36.35" y="0.00" textLength="31.15" lengthAdjust="spacingAndGlyphs">insulin</tspan> <tspan x="70.06" y="0.00" textLength="38.94" lengthAdjust="spacingAndGlyphs">(pmol/l)</tspan></text>
<text transform="translate(-0.50 678.50) rotate(0.03)" font-size="20.00" font-weight="bold" stroke="#000" stroke-width="0.45" x="0.00" y="0.00">E</text>
<line x1="62.10" y1="676.00" x2="62.10" y2="839.50" stroke="#7c7c7c" stroke-width="1.15"/>
<line x1="58.60" y1="839.00" x2="297.00" y2="839.00" stroke="#7c7c7c" stroke-width="1.15"/>
<line x1="58.60" y1="839.00" x2="62.10" y2="839.00" stroke="#7c7c7c" stroke-width="1.15"/>
<text transform="translate(50.60 842.20) rotate(0.03)" font-size="9.56" font-weight="bold" stroke="#000" stroke-width="0.25"><tspan x="-5.73" y="0.00" textLength="5.73" lengthAdjust="spacingAndGlyphs">0</tspan></text>
<line x1="58.60" y1="818.72" x2="62.10" y2="818.72" stroke="#7c7c7c" stroke-width="1.15"/>
<text transform="translate(50.60 821.92) rotate(0.03)" font-size="9.56" font-weight="bold" stroke="#000" stroke-width="0.25"><tspan x="-11.46" y="0.00" textLength="11.46" lengthAdjust="spacingAndGlyphs">25</tspan></text>
<line x1="58.60" y1="798.44" x2="62.10" y2="798.44" stroke="#7c7c7c" stroke-width="1.15"/>
<text transform="translate(50.60 801.64) rotate(0.03)" font-size="9.56" font-weight="bold" stroke="#000" stroke-width="0.25"><tspan x="-11.46" y="0.00" textLength="11.46" lengthAdjust="spacingAndGlyphs">50</tspan></text>
<line x1="58.60" y1="778.16" x2="62.10" y2="778.16" stroke="#7c7c7c" stroke-width="1.15"/>
<text transform="translate(50.60 781.36) rotate(0.03)" font-size="9.56" font-weight="bold" stroke="#000" stroke-width="0.25"><tspan x="-11.46" y="0.00" textLength="11.46" lengthAdjust="spacingAndGlyphs">75</tspan></text>
<line x1="58.60" y1="757.88" x2="62.10" y2="757.88" stroke="#7c7c7c" stroke-width="1.15"/>
<text transform="translate(50.60 761.08) rotate(0.03)" font-size="9.56" font-weight="bold" stroke="#000" stroke-width="0.25"><tspan x="-17.19" y="0.00" textLength="17.19" lengthAdjust="spacingAndGlyphs">100</tspan></text>
<line x1="58.60" y1="737.60" x2="62.10" y2="737.60" stroke="#7c7c7c" stroke-width="1.15"/>
<text transform="translate(50.60 740.80) rotate(0.03)" font-size="9.56" font-weight="bold" stroke="#000" stroke-width="0.25"><tspan x="-17.19" y="0.00" textLength="17.19" lengthAdjust="spacingAndGlyphs">125</tspan></text>
<line x1="58.60" y1="717.32" x2="62.10" y2="717.32" stroke="#7c7c7c" stroke-width="1.15"/>
<text transform="translate(50.60 720.52) rotate(0.03)" font-size="9.56" font-weight="bold" stroke="#000" stroke-width="0.25"><tspan x="-17.19" y="0.00" textLength="17.19" lengthAdjust="spacingAndGlyphs">150</tspan></text>
<line x1="58.60" y1="697.04" x2="62.10" y2="697.04" stroke="#7c7c7c" stroke-width="1.15"/>
<text transform="translate(50.60 700.24) rotate(0.03)" font-size="9.56" font-weight="bold" stroke="#000" stroke-width="0.25"><tspan x="-17.19" y="0.00" textLength="17.19" lengthAdjust="spacingAndGlyphs">175</tspan></text>
<line x1="58.60" y1="676.76" x2="62.10" y2="676.76" stroke="#7c7c7c" stroke-width="1.15"/>
<text transform="translate(50.60 679.96) rotate(0.03)" font-size="9.56" font-weight="bold" stroke="#000" stroke-width="0.25"><tspan x="-17.19" y="0.00" textLength="17.19" lengthAdjust="spacingAndGlyphs">200</tspan></text>
<line x1="62.10" y1="839.00" x2="62.10" y2="842.00" stroke="#7c7c7c" stroke-width="1.15"/>
<line x1="73.85" y1="742.50" x2="73.85" y2="757.25" stroke="#000" stroke-width="1.25"/>
<line x1="71.45" y1="743.00" x2="76.25" y2="743.00" stroke="#000" stroke-width="1.25"/>
<line x1="84.15" y1="744.25" x2="84.15" y2="757.25" stroke="#000" stroke-width="1.25"/>
<line x1="81.75" y1="744.75" x2="86.55" y2="744.75" stroke="#000" stroke-width="1.25"/>
<rect x="69.15" y="757.75" width="9.80" height="81.25" fill="#fff" stroke="#000" stroke-width="1"/>
<rect x="79.05" y="756.25" width="10.80" height="82.75" fill="#000"/>
<text transform="translate(79.25 860.80) rotate(0.03)" font-size="9.65" font-weight="bold" stroke="#000" stroke-width="0.25"><tspan x="-12.35" y="0.00" textLength="24.71" lengthAdjust="spacingAndGlyphs">Brain</tspan></text>
<line x1="96.60" y1="839.00" x2="96.60" y2="842.00" stroke="#7c7c7c" stroke-width="1.15"/>
<line x1="108.35" y1="741.25" x2="108.35" y2="757.25" stroke="#000" stroke-width="1.25"/>
<line x1="105.95" y1="741.75" x2="110.75" y2="741.75" stroke="#000" stroke-width="1.25"/>
<line x1="118.65" y1="754.50" x2="118.65" y2="763.50" stroke="#000" stroke-width="1.25"/>
<line x1="116.25" y1="755.00" x2="121.05" y2="755.00" stroke="#000" stroke-width="1.25"/>
<rect x="103.65" y="757.75" width="9.80" height="81.25" fill="#fff" stroke="#000" stroke-width="1"/>
<rect x="113.55" y="762.50" width="10.80" height="76.50" fill="#000"/>
<text transform="translate(113.75 860.80) rotate(0.03)" font-size="9.65" font-weight="bold" stroke="#000" stroke-width="0.25"><tspan x="-9.87" y="0.00" textLength="19.75" lengthAdjust="spacingAndGlyphs">Skin</tspan></text>
<line x1="131.10" y1="839.00" x2="131.10" y2="842.00" stroke="#7c7c7c" stroke-width="1.15"/>
<line x1="142.85" y1="744.50" x2="142.85" y2="757.25" stroke="#000" stroke-width="1.25"/>
<line x1="140.45" y1="745.00" x2="145.25" y2="745.00" stroke="#000" stroke-width="1.25"/>
<line x1="153.15" y1="739.00" x2="153.15" y2="750.50" stroke="#000" stroke-width="1.25"/>
<line x1="150.75" y1="739.50" x2="155.55" y2="739.50" stroke="#000" stroke-width="1.25"/>
<rect x="138.15" y="757.75" width="9.80" height="81.25" fill="#fff" stroke="#000" stroke-width="1"/>
<rect x="148.05" y="749.50" width="10.80" height="89.50" fill="#000"/>
<text transform="translate(148.25 860.80) rotate(0.03)" font-size="9.65" font-weight="bold" stroke="#000" stroke-width="0.25"><tspan x="-8.96" y="0.00" textLength="17.92" lengthAdjust="spacingAndGlyphs">BAT</tspan></text>
<line x1="165.60" y1="839.00" x2="165.60" y2="842.00" stroke="#7c7c7c" stroke-width="1.15"/>
<line x1="177.35" y1="751.50" x2="177.35" y2="757.25" stroke="#000" stroke-width="1.25"/>
<line x1="174.95" y1="752.00" x2="179.75" y2="752.00" stroke="#000" stroke-width="1.25"/>
<line x1="187.65" y1="738.00" x2="187.65" y2="750.50" stroke="#000" stroke-width="1.25"/>
<line x1="185.25" y1="738.50" x2="190.05" y2="738.50" stroke="#000" stroke-width="1.25"/>
<rect x="172.65" y="757.75" width="9.80" height="81.25" fill="#fff" stroke="#000" stroke-width="1"/>
<rect x="182.55" y="749.50" width="10.80" height="89.50" fill="#000"/>
<text transform="translate(182.75 860.80) rotate(0.03)" font-size="9.65" font-weight="bold" stroke="#000" stroke-width="0.25"><tspan x="-13.26" y="0.00" textLength="26.53" lengthAdjust="spacingAndGlyphs">Heart</tspan></text>
<line x1="200.10" y1="839.00" x2="200.10" y2="842.00" stroke="#7c7c7c" stroke-width="1.15"/>
<line x1="211.85" y1="746.50" x2="211.85" y2="757.25" stroke="#000" stroke-width="1.25"/>
<line x1="209.45" y1="747.00" x2="214.25" y2="747.00" stroke="#000" stroke-width="1.25"/>
<line x1="222.15" y1="709.50" x2="222.15" y2="725.50" stroke="#000" stroke-width="1.25"/>
<line x1="219.75" y1="710.00" x2="224.55" y2="710.00" stroke="#000" stroke-width="1.25"/>
<rect x="207.15" y="757.75" width="9.80" height="81.25" fill="#fff" stroke="#000" stroke-width="1"/>
<rect x="217.05" y="724.50" width="10.80" height="114.50" fill="#000"/>
<text transform="translate(222.55 709.50) rotate(0.03)" font-size="11.50" font-family="DejaVu Sans, Liberation Sans, sans-serif" stroke="#000" stroke-width="0.2" x="0.00" y="0.00" text-anchor="middle">*</text>
<text transform="translate(217.25 860.80) rotate(0.03)" font-size="9.65" font-weight="bold" stroke="#000" stroke-width="0.25"><tspan x="-11.21" y="0.00" textLength="22.43" lengthAdjust="spacingAndGlyphs">Lung</tspan></text>
<line x1="234.60" y1="839.00" x2="234.60" y2="842.00" stroke="#7c7c7c" stroke-width="1.15"/>
<line x1="246.35" y1="745.75" x2="246.35" y2="757.25" stroke="#000" stroke-width="1.25"/>
<line x1="243.95" y1="746.25" x2="248.75" y2="746.25" stroke="#000" stroke-width="1.25"/>
<line x1="256.65" y1="698.60" x2="256.65" y2="716.00" stroke="#000" stroke-width="1.25"/>
<line x1="254.25" y1="699.10" x2="259.05" y2="699.10" stroke="#000" stroke-width="1.25"/>
<rect x="241.65" y="757.75" width="9.80" height="81.25" fill="#fff" stroke="#000" stroke-width="1"/>
<rect x="251.55" y="715.00" width="10.80" height="124.00" fill="#000"/>
<text transform="translate(257.05 698.20) rotate(0.03)" font-size="11.50" font-family="DejaVu Sans, Liberation Sans, sans-serif" stroke="#000" stroke-width="0.2" x="0.00" y="0.00" text-anchor="middle">*</text>
<text transform="translate(251.75 860.80) rotate(0.03)" font-size="9.65" font-weight="bold" stroke="#000" stroke-width="0.25"><tspan x="-16.95" y="0.00" textLength="33.90" lengthAdjust="spacingAndGlyphs">Muscle</tspan></text>
<line x1="269.10" y1="839.00" x2="269.10" y2="842.00" stroke="#7c7c7c" stroke-width="1.15"/>
<line x1="280.85" y1="748.00" x2="280.85" y2="757.25" stroke="#000" stroke-width="1.25"/>
<line x1="278.45" y1="748.50" x2="283.25" y2="748.50" stroke="#000" stroke-width="1.25"/>
<line x1="291.15" y1="742.50" x2="291.15" y2="754.00" stroke="#000" stroke-width="1.25"/>
<line x1="288.75" y1="743.00" x2="293.55" y2="743.00" stroke="#000" stroke-width="1.25"/>
<rect x="276.15" y="757.75" width="9.80" height="81.25" fill="#fff" stroke="#000" stroke-width="1"/>
<rect x="286.05" y="753.00" width="10.80" height="86.00" fill="#000"/>
<text transform="translate(286.25 860.80) rotate(0.03)" font-size="9.65" font-weight="bold" stroke="#000" stroke-width="0.25"><tspan x="-11.33" y="0.00" textLength="22.67" lengthAdjust="spacingAndGlyphs">Liver</tspan></text>
<rect x="69.9" y="677.1" width="6.4" height="6.4" fill="#fff" stroke="#000" stroke-width="1.25"/>
<rect x="69.50" y="690.50" width="7.00" height="7.00" fill="#000"/>
<text transform="translate(79.50 683.50) rotate(0.03)" font-size="9.20" stroke="#000" stroke-width="0.25"><tspan x="0.00" y="0.00" textLength="21.75" lengthAdjust="spacingAndGlyphs">NaCl</tspan></text>
<text transform="translate(79.50 697.30) rotate(0.03)" font-size="9.20" stroke="#000" stroke-width="0.25"><tspan x="0.00" y="0.00" textLength="70.50" lengthAdjust="spacingAndGlyphs">Apelin-injected</tspan></text>
<text transform="translate(9.00 813.80) rotate(-90)" font-size="9.56" font-weight="bold" x="0.00" y="0.00" textLength="91.30" lengthAdjust="spacingAndGlyphs">D-[<tspan font-size="6.20" dy="-3">3</tspan><tspan dy="3">H]-2-DG uptake</tspan></text>
<text transform="translate(22.80 799.20) rotate(-90)" font-size="9.56" font-weight="bold" stroke="#000" stroke-width="0.25"><tspan x="0.00" y="0.00" textLength="11.87" lengthAdjust="spacingAndGlyphs">(%</tspan> <tspan x="14.45" y="0.00" textLength="9.74" lengthAdjust="spacingAndGlyphs">of</tspan> <tspan x="26.77" y="0.00" textLength="37.23" lengthAdjust="spacingAndGlyphs">control)</tspan></text>
</svg>
</body></html>
